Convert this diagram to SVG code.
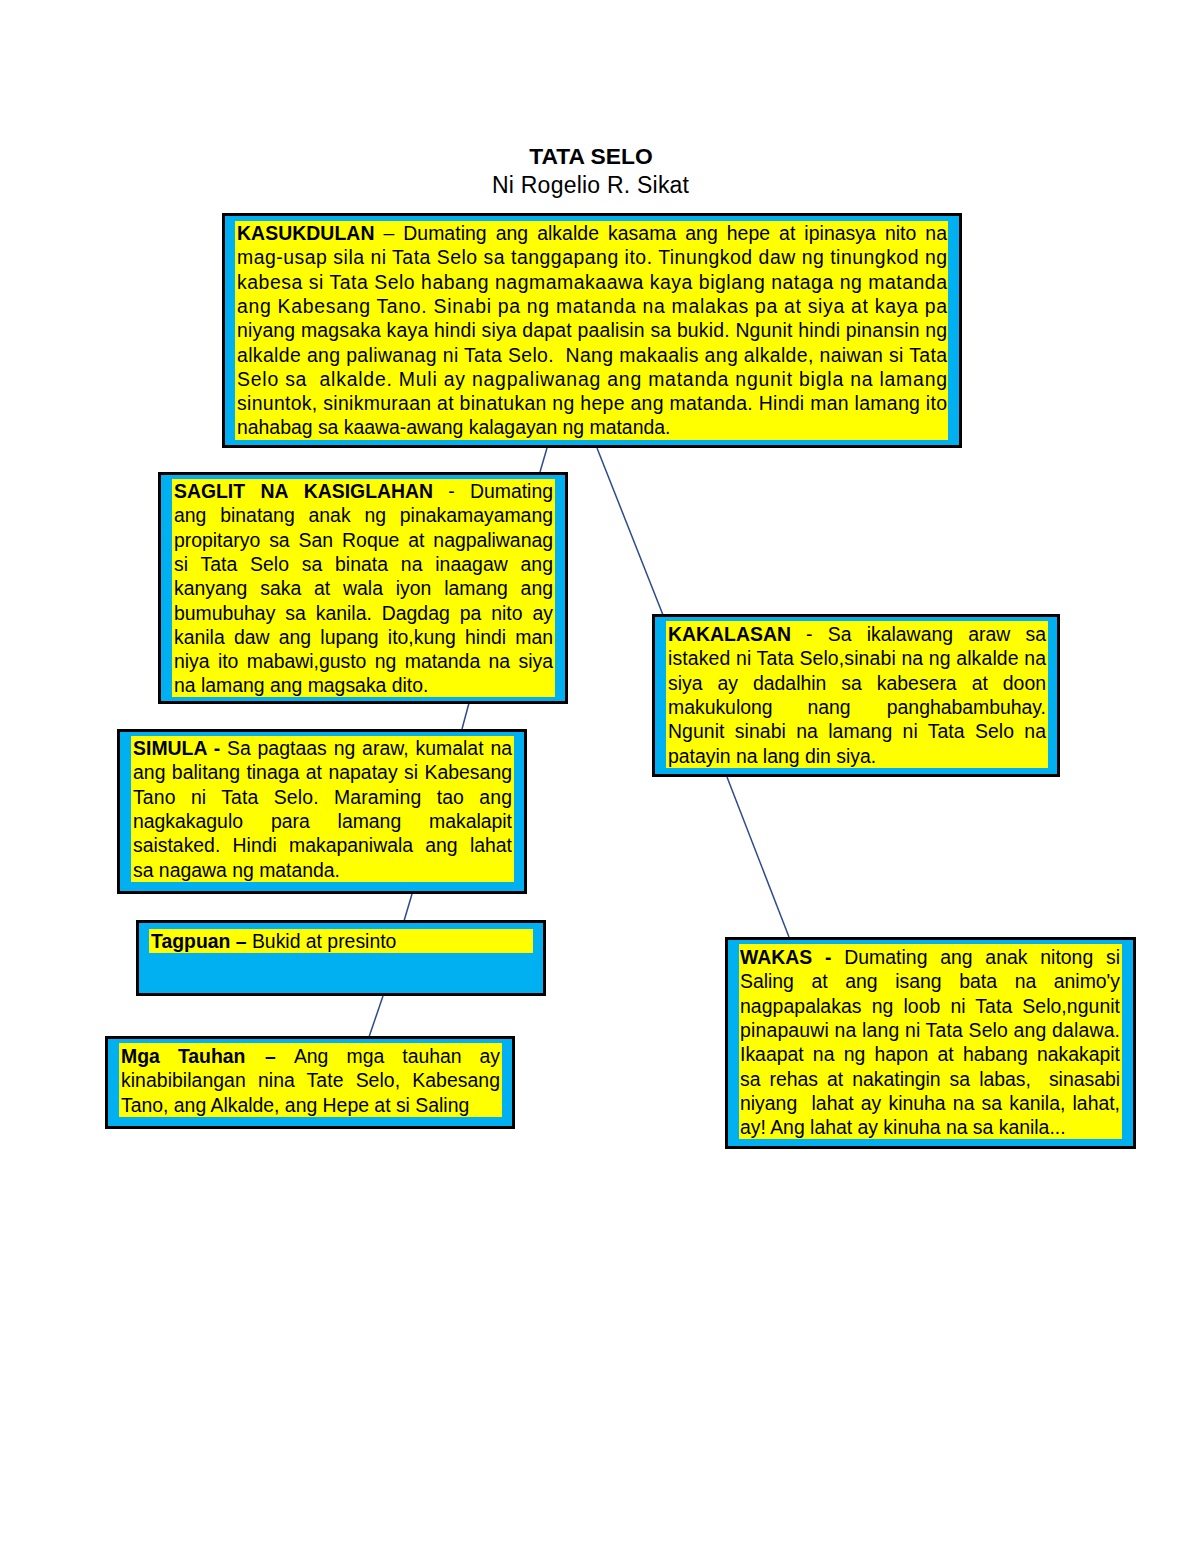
<svg xmlns="http://www.w3.org/2000/svg" width="1200" height="1553" viewBox="0 0 1200 1553">
<style>
.t{font-family:"Liberation Sans",Arial,Helvetica,sans-serif;font-size:19.4px;fill:#000}
.b{font-weight:bold}
.box{fill:#00B0F0;stroke:#000;stroke-width:3}
.hl{fill:#FFFF00}
.conn line{stroke:#2E4A8C;stroke-width:1.5}
.title{font-family:"Liberation Sans",Arial,Helvetica,sans-serif;fill:#000}
</style>
<rect width="1200" height="1553" fill="#fff"/>
<g id="title">
<text class="title" x="591" y="164" font-size="22.8" font-weight="bold" text-anchor="middle">TATA SELO</text>
<text class="title" x="492" y="193" font-size="23" textLength="197" lengthAdjust="spacing">Ni Rogelio R. Sikat</text>
</g>
<g id="connectors" class="conn">
<line x1="547" y1="448" x2="540" y2="472"/>
<line x1="597" y1="448" x2="663" y2="615"/>
<line x1="469" y1="703" x2="462" y2="729"/>
<line x1="412" y1="894" x2="404" y2="921"/>
<line x1="383" y1="996" x2="369" y2="1037"/>
<line x1="727" y1="777" x2="789" y2="937"/>
</g>
<g id="kasukdulan">
<rect class="box" x="223.5" y="214.5" width="737" height="232"/>
<rect class="hl" x="235" y="221" width="713" height="219"/>
<text class="t" x="237" y="240" textLength="710" lengthAdjust="spacing" word-spacing="3.5"><tspan class="b">KASUKDULAN</tspan> – Dumating ang alkalde kasama ang hepe at ipinasya nito na</text>
<text class="t" x="237" y="264.3" textLength="710" lengthAdjust="spacing">mag-usap sila ni Tata Selo sa tanggapang ito. Tinungkod daw ng tinungkod ng</text>
<text class="t" x="237" y="288.6" textLength="710" lengthAdjust="spacing">kabesa si Tata Selo habang nagmamakaawa kaya biglang nataga ng matanda</text>
<text class="t" x="237" y="312.9" textLength="710" lengthAdjust="spacing">ang Kabesang Tano. Sinabi pa ng matanda na malakas pa at siya at kaya pa</text>
<text class="t" x="237" y="337.2" textLength="710" lengthAdjust="spacing">niyang magsaka kaya hindi siya dapat paalisin sa bukid. Ngunit hindi pinansin ng</text>
<text class="t" x="237" y="361.5" textLength="710" lengthAdjust="spacing" xml:space="preserve">alkalde ang paliwanag ni Tata Selo.  Nang makaalis ang alkalde, naiwan si Tata</text>
<text class="t" x="237" y="385.8" textLength="710" lengthAdjust="spacing" xml:space="preserve">Selo sa  alkalde. Muli ay nagpaliwanag ang matanda ngunit bigla na lamang</text>
<text class="t" x="237" y="410.1" textLength="710" lengthAdjust="spacing">sinuntok, sinikmuraan at binatukan ng hepe ang matanda. Hindi man lamang ito</text>
<text class="t" x="237" y="434.4">nahabag sa kaawa-awang kalagayan ng matanda.</text>
</g>
<g id="saglit">
<rect class="box" x="159.5" y="473.5" width="407" height="229"/>
<rect class="hl" x="172" y="479" width="383" height="218"/>
<text class="t" y="498"><tspan class="b" x="174">SAGLIT</tspan><tspan class="b" x="260.4">NA</tspan><tspan class="b" x="303.8">KASIGLAHAN</tspan><tspan x="448.2">-</tspan><tspan x="553" text-anchor="end">Dumating</tspan></text>
<text class="t" x="174" y="522.3" textLength="379" lengthAdjust="spacing" word-spacing="8.4">ang binatang anak ng pinakamayamang</text>
<text class="t" x="174" y="546.6" textLength="379" lengthAdjust="spacing" word-spacing="3.6">propitaryo sa San Roque at nagpaliwanag</text>
<text class="t" x="174" y="570.9" textLength="379" lengthAdjust="spacing" word-spacing="7.2">si Tata Selo sa binata na inaagaw ang</text>
<text class="t" x="174" y="595.2" textLength="379" lengthAdjust="spacing" word-spacing="7.4">kanyang saka at wala iyon lamang ang</text>
<text class="t" x="174" y="619.5" textLength="379" lengthAdjust="spacing" word-spacing="4.6">bumubuhay sa kanila. Dagdag pa nito ay</text>
<text class="t" x="174" y="643.8" textLength="379" lengthAdjust="spacing" word-spacing="3.8">kanila daw ang lupang ito,kung hindi man</text>
<text class="t" x="174" y="668.1" textLength="379" lengthAdjust="spacing" word-spacing="3">niya ito mabawi,gusto ng matanda na siya</text>
<text class="t" x="174" y="692.4">na lamang ang magsaka dito.</text>
</g>
<g id="kakalasan">
<rect class="box" x="653.5" y="615.5" width="405" height="160"/>
<rect class="hl" x="666" y="621" width="382" height="147"/>
<text class="t" x="668" y="641" textLength="378" lengthAdjust="spacing" word-spacing="9.8"><tspan class="b">KAKALASAN</tspan> - Sa ikalawang araw sa</text>
<text class="t" x="668" y="665.3" textLength="378" lengthAdjust="spacing">istaked ni Tata Selo,sinabi na ng alkalde na</text>
<text class="t" x="668" y="689.6" textLength="378" lengthAdjust="spacing" word-spacing="9.6">siya ay dadalhin sa kabesera at doon</text>
<text class="t" y="713.9"><tspan x="668">makukulong</tspan><tspan x="807.4">nang</tspan><tspan x="1046" text-anchor="end">panghabambuhay.</tspan></text>
<text class="t" x="668" y="738.2" textLength="378" lengthAdjust="spacing" word-spacing="4.8">Ngunit sinabi na lamang ni Tata Selo na</text>
<text class="t" x="668" y="762.5">patayin na lang din siya.</text>
</g>
<g id="simula">
<rect class="box" x="118.5" y="730.5" width="407" height="162"/>
<rect class="hl" x="131" y="736" width="383" height="146"/>
<text class="t" x="133" y="755" textLength="379" lengthAdjust="spacing" word-spacing="1.4"><tspan class="b">SIMULA -</tspan> Sa pagtaas ng araw, kumalat na</text>
<text class="t" x="133" y="779.3" textLength="379" lengthAdjust="spacing" word-spacing="1">ang balitang tinaga at napatay si Kabesang</text>
<text class="t" x="133" y="803.6" textLength="379" lengthAdjust="spacing" word-spacing="9.8">Tano ni Tata Selo. Maraming tao ang</text>
<text class="t" y="827.9"><tspan x="133">nagkakagulo</tspan><tspan x="270.9">para</tspan><tspan x="337.6">lamang</tspan><tspan x="512" text-anchor="end">makalapit</tspan></text>
<text class="t" x="133" y="852.2" textLength="379" lengthAdjust="spacing" word-spacing="6.9">saistaked. Hindi makapaniwala ang lahat</text>
<text class="t" x="133" y="876.5">sa nagawa ng matanda.</text>
</g>
<g id="tagpuan">
<rect class="box" x="137.5" y="921.5" width="407" height="73"/>
<rect class="hl" x="149" y="929" width="384" height="24"/>
<text class="t" x="151" y="948"><tspan class="b">Tagpuan –</tspan> Bukid at presinto</text>
</g>
<g id="tauhan">
<rect class="box" x="106.5" y="1037.5" width="407" height="90"/>
<rect class="hl" x="119" y="1043" width="383" height="74"/>
<text class="t" y="1063"><tspan class="b" x="121">Mga</tspan><tspan class="b" x="177.9">Tauhan</tspan><tspan class="b" x="265">–</tspan><tspan x="293.9">Ang</tspan><tspan x="346.5">mga</tspan><tspan x="402.3">tauhan</tspan><tspan x="500" text-anchor="end">ay</tspan></text>
<text class="t" x="121" y="1087.3" textLength="379" lengthAdjust="spacing" word-spacing="6.7">kinabibilangan nina Tate Selo, Kabesang</text>
<text class="t" x="121" y="1111.6">Tano, ang Alkalde, ang Hepe at si Saling</text>
</g>
<g id="wakas">
<rect class="box" x="726.5" y="938.5" width="408" height="209"/>
<rect class="hl" x="739" y="944" width="383" height="195"/>
<text class="t" x="740" y="964" textLength="380" lengthAdjust="spacing" word-spacing="7.3"><tspan class="b">WAKAS -</tspan> Dumating ang anak nitong si</text>
<text class="t" y="988.3"><tspan x="740">Saling</tspan><tspan x="811.5">at</tspan><tspan x="845.3">ang</tspan><tspan x="895.3">isang</tspan><tspan x="959.3">bata</tspan><tspan x="1014.7">na</tspan><tspan x="1120" text-anchor="end">animo'y</tspan></text>
<text class="t" x="740" y="1012.6" textLength="380" lengthAdjust="spacing" word-spacing="4.6">nagpapalakas ng loob ni Tata Selo,ngunit</text>
<text class="t" x="740" y="1036.9" textLength="380" lengthAdjust="spacing">pinapauwi na lang ni Tata Selo ang dalawa.</text>
<text class="t" x="740" y="1061.2" textLength="380" lengthAdjust="spacing" word-spacing="3.8">Ikaapat na ng hapon at habang nakakapit</text>
<text class="t" x="740" y="1085.5" textLength="380" lengthAdjust="spacing" word-spacing="3.7" xml:space="preserve">sa rehas at nakatingin sa labas,  sinasabi</text>
<text class="t" x="740" y="1109.8" textLength="380" lengthAdjust="spacing" word-spacing="1.8" xml:space="preserve">niyang  lahat ay kinuha na sa kanila, lahat,</text>
<text class="t" x="740" y="1134.1">ay! Ang lahat ay kinuha na sa kanila...</text>
</g>
</svg>
